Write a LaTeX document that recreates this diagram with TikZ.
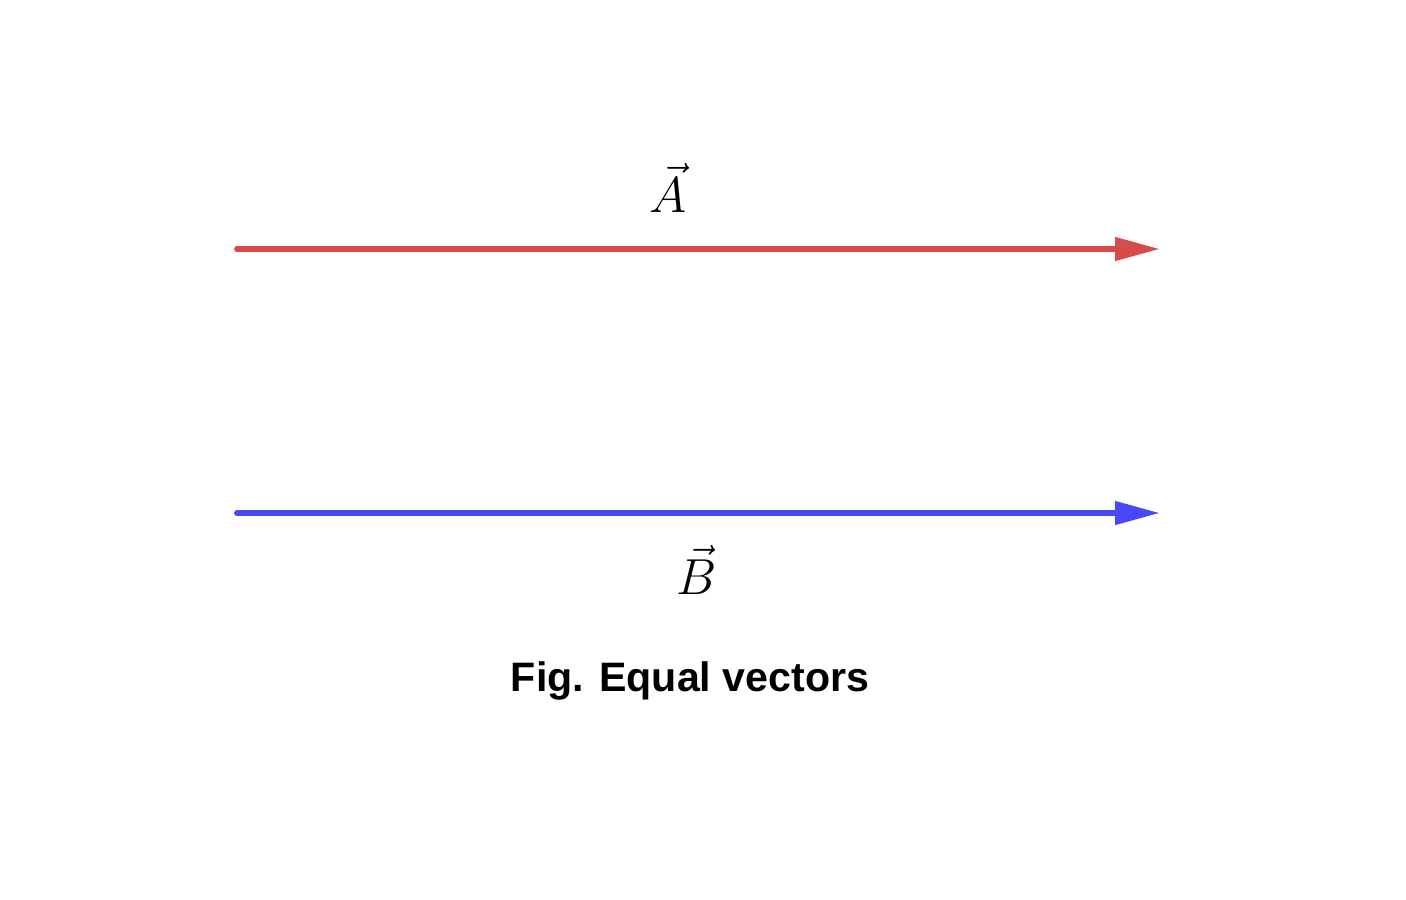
\documentclass[tikz,border=0pt]{standalone}
\usepackage{fontspec}
\setsansfont{Liberation Sans}
\usetikzlibrary{arrows.meta}
\definecolor{vred}{RGB}{215,75,75}
\definecolor{vblue}{RGB}{72,72,245}
\begin{document}
\begin{tikzpicture}[x=0.01cm,y=-0.01cm,
  vec/.style={line width=1.7pt,line cap=round,-{Triangle[length=12.8pt,width=6.4pt]}},
  lbl/.style={font=\fontsize{14.5}{17}\selectfont}]
\useasboundingbox (0,0) rectangle (1406,900);
\coordinate (a1) at (237,249); \coordinate (a2) at (1160,249);
\coordinate (b1) at (237,513); \coordinate (b2) at (1160,513);
\draw[vec,vred] (a1) -- (a2);
\draw[vec,vblue] (b1) -- (b2);
\node[lbl] (la) at (668,188) {$\vec{A}$};
\node[lbl] (lb) at (697,570) {$\vec{B}$};
\node[font=\sffamily\bfseries\fontsize{11.7}{14}\selectfont] (cap) at (690,681) {Fig. Equal vectors};
\end{tikzpicture}
\end{document}
